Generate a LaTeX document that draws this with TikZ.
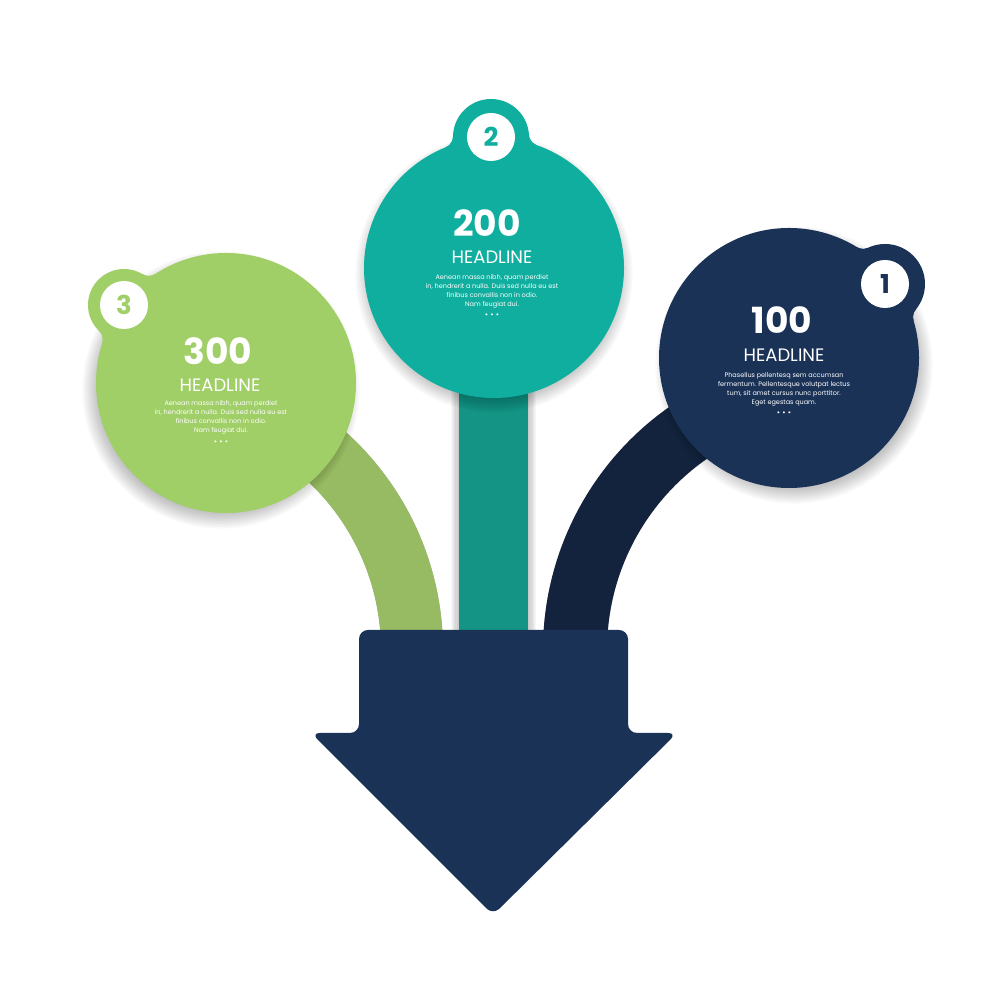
\documentclass[tikz,border=0pt]{standalone}
\usepackage{fontspec}
\newfontfamily\pop{Poppins}
\usetikzlibrary{intersections,calc}

\definecolor{limetop}{HTML}{A0CE67}
\definecolor{limestem}{HTML}{97BB62}
\definecolor{tealtop}{HTML}{10AE9E}
\definecolor{tealstem}{HTML}{139484}
\definecolor{navytop}{HTML}{1B3257}
\definecolor{navystem}{HTML}{13233E}

% main circle centre, badge centre, badge radius, colour
\newcommand{\blob}[4]{%
  \path[name path=ringa] (#1) circle (142);
  \path[name path=ringb] (#2) circle ({#3+12});
  \path[name intersections={of=ringa and ringb, by={fa,fb}}];
  \begin{scope}
    \clip (#1) -- (fa) -- (#2) -- (fb) -- cycle;
    \fill[#4, even odd rule] ($(#2)+(-90,-90)$) rectangle ($(#2)+(90,90)$) (fa) circle (12) (fb) circle (12);
  \end{scope}
  \fill[#4] (#2) circle (#3);
}
% soft shadow under a disc: centre, x offset, y offset
\newcommand{\discshadow}[3]{%
  \foreach \r in {0,...,11}
    \fill[black, opacity=0.022] ($(#1)+(#2,#3)$) circle ({121+1.6*\r});
}
\newcommand{\greenpath}{($(g)+(0:231)$) arc[start angle=0, end angle=60, radius=231]
      -- ($(g)+(60:293)$) arc[start angle=60, end angle=0, radius=293] -- cycle}
\newcommand{\navypath}{($(k)+(180:233)$) arc[start angle=180, end angle=120, radius=233]
      -- ($(k)+(120:297)$) arc[start angle=120, end angle=180, radius=297] -- cycle}

\begin{document}
\begin{tikzpicture}[x=1pt,y=1pt]
    \tikzstyle{big num}=[text=white, font=\pop\bfseries\fontsize{36}{36}\selectfont, inner sep=0pt]
    \tikzstyle{head}=[text=white, font=\pop\fontsize{18}{18}\selectfont, inner sep=0pt]
    \tikzstyle{body}=[text=white, align=center, font=\pop\fontsize{6.5}{9}\selectfont, inner sep=0pt]
    \tikzstyle{dots}=[text=white, font=\pop\fontsize{8}{8}\selectfont, inner sep=0pt]
    \tikzstyle{badge num}=[circle, fill=white, minimum size=48pt, inner sep=0pt, font=\pop\bfseries\fontsize{26}{26}\selectfont]
    \tikzstyle{stem shade}=[black, opacity=0.03]
    \fill[white] (0,0) rectangle (1000,1000);
    \useasboundingbox (0,0) rectangle (1000,1000);

    \coordinate (c3) at (226,617);
    \coordinate (b3) at (124,695);
    \coordinate (c2) at (494,732);
    \coordinate (b2) at (491,863);
    \coordinate (c1) at (789,642);
    \coordinate (b1) at (885,716);
    \coordinate (g) at (150,350);
    \coordinate (k) at (840,350);

    % stems with their shadows
    \foreach \s in {1,...,10}
      \fill[stem shade, xshift=1.4*\s, yshift=-0.5*\s] \greenpath;
    \fill[limestem] \greenpath;
    \foreach \s in {1,...,10}
      \fill[stem shade, xshift=-1.4*\s, yshift=-0.5*\s] \navypath;
    \fill[navystem] \navypath;
    \foreach \s in {1,...,7}
      \fill[stem shade] (459-1.2*\s,350) rectangle (528+1.2*\s,640);
    \fill[tealstem] (459,350) rectangle (528,640);

    % circles
    \discshadow{c3}{-5}{-7}
    \fill[limetop] (c3) circle (130);
    \blob{c3}{b3}{36}{limetop}
    \discshadow{c2}{0}{-6}
    \fill[tealtop] (c2) circle (130);
    \blob{c2}{b2}{38}{tealtop}
    \discshadow{c1}{5}{-7}
    \fill[navytop] (c1) circle (130);
    \blob{c1}{b1}{40}{navytop}

    \node[badge num, text=limetop] (n3) at (b3) {3};
    \node[badge num, text=tealtop] (n2) at (b2) {2};
    \node[badge num, text=navytop] (n1) at (b1) {1};

    % texts
    \node[big num] (num3) at (218,649) {300};
    \node[head] (head3) at (220,614.5) {HEADLINE};
    \node[body] (txt3) at (221,583) {Aenean massa nibh, quam perdiet\\in, hendrerit a nulla. Duis sed nulla eu est\\finibus convallis non in odio.\\Nam feugiat dui.};
    \node[dots] (dots3) at (221,557) {• • •};

    \node[big num] (num2) at (487,776.5) {200};
    \node[head] (head2) at (492,742.5) {HEADLINE};
    \node[body] (txt2) at (492,709) {Aenean massa nibh, quam perdiet\\in, hendrerit a nulla. Duis sed nulla eu est\\finibus convallis non in odio.\\Nam feugiat dui.};
    \node[dots] (dots2) at (492,684) {• • •};

    \node[big num] (num1) at (782,680) {100};
    \node[head] (head1) at (784,644.5) {HEADLINE};
    \node[body] (txt1) at (784,611) {Phasellus pellentesq sem accumsan\\fermentum. Pellentesque volutpat lectus\\tum, sit amet cursus nunc porttitor.\\Eget egestas quam.};
    \node[dots] (dots1) at (784,586) {• • •};

    % arrow
    \fill[navytop, rounded corners=9] (493,370) -- (628,370) -- (628,267) -- (677,267) -- (493,85)
      -- (311,267) -- (359,267) -- (359,370) -- cycle;
\end{tikzpicture}
\end{document}
